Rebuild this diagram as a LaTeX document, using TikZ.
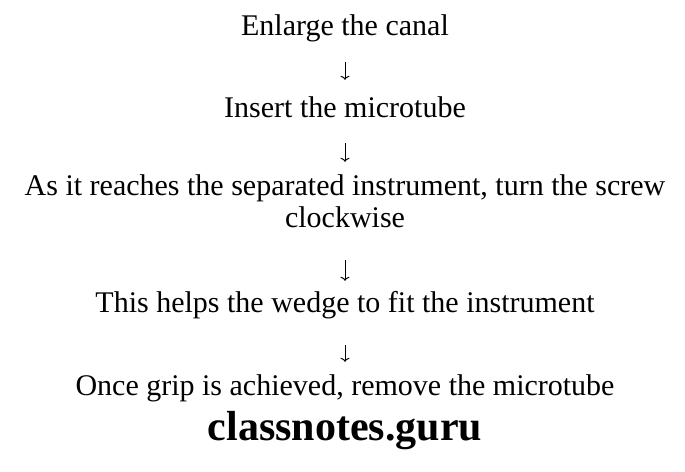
\documentclass[tikz,border=0pt]{standalone}
\usepackage{fontspec}
\setmainfont{Liberation Serif}
\usetikzlibrary{arrows,arrows.meta,positioning}
\begin{document}
\begin{tikzpicture}[x=1pt,y=1pt]
    \tikzstyle{stage}=[font=\fontsize{30}{32}\selectfont,inner sep=0pt,text height=21pt,text depth=7pt,align=center,anchor=base]
    \tikzstyle{link}=[-{To[length=4pt,width=9pt]},line width=1pt]
    \tikzstyle{brand}=[font=\fontsize{42}{50}\selectfont\bfseries,inner sep=0pt,anchor=base]

    \useasboundingbox (0,0) rectangle (685,-471);

    \node[stage] (enlarge) at (345, -35)  {Enlarge the canal};
    \node[stage] (insert)  at (345,-117)  {Insert the microtube};
    \node[stage,text height=53pt] (reach) at (345,-227) {As it reaches the separated instrument, turn the screw\\ clockwise};
    \node[stage] (wedge)   at (345,-312)  {This helps the wedge to fit the instrument};
    \node[stage] (remove)  at (345,-395)  {Once grip is achieved, remove the microtube};
    \node[brand] (site)    at (345,-440)  {classnotes.guru};

    \path[link] (enlarge) edge[shorten <=20pt,shorten >=16pt] (insert);
    \path[link] (insert)  edge[shorten <=19pt,shorten >=12pt] (reach);
    \path[link] (reach)   edge[shorten <=26pt,shorten >=10pt] (wedge);
    \path[link] (wedge)   edge[shorten <=26pt,shorten >=12pt] (remove);
\end{tikzpicture}
\end{document}
